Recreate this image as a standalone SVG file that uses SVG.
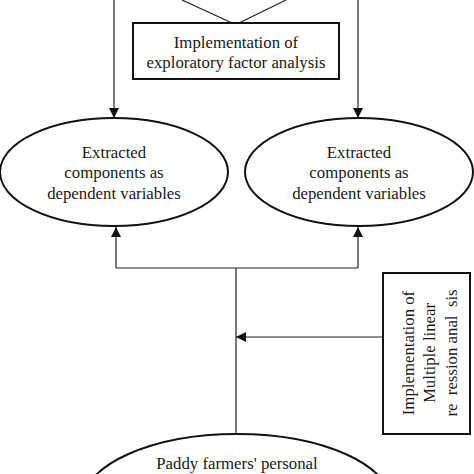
<svg xmlns="http://www.w3.org/2000/svg" width="474" height="474" viewBox="0 0 474 474">
<style>
text{font-family:"Liberation Serif","Times New Roman",serif;font-size:16.8px;fill:#1a1a1a;text-anchor:middle}
.n{fill:#fff;stroke:#111;stroke-width:2}
.c{fill:none;stroke:#222;stroke-width:1.2}
</style>
<defs>
<marker id="ah" viewBox="0 0 10 10" refX="10" refY="5" markerWidth="10" markerHeight="10" markerUnits="userSpaceOnUse" orient="auto">
<path d="M0,0 L10,5 L0,10 Z" fill="#111"/>
</marker>
</defs>
<rect width="474" height="474" fill="#fff"/>
<g id="connectors">
<line class="c" x1="114" y1="0" x2="114" y2="118" marker-end="url(#ah)"/>
<line class="c" x1="358" y1="0" x2="358" y2="118" marker-end="url(#ah)"/>
<line class="c" x1="182" y1="0" x2="232" y2="23"/>
<line class="c" x1="286" y1="0" x2="239" y2="23"/>
<polyline class="c" points="116,268 358,268"/>
<line class="c" x1="116" y1="268" x2="116" y2="227" marker-end="url(#ah)"/>
<line class="c" x1="358" y1="268" x2="358" y2="227" marker-end="url(#ah)"/>
<line class="c" x1="236" y1="268" x2="236" y2="434"/>
<line class="c" x1="383" y1="337" x2="236" y2="337" marker-end="url(#ah)"/>
</g>
<g id="efa">
<rect class="n" x="133" y="23" width="206" height="56"/>
<text x="236" y="48">Implementation of</text>
<text x="236" y="68">exploratory factor analysis</text>
</g>
<g id="left">
<ellipse class="n" cx="114" cy="172" rx="114" ry="54"/>
<text x="114" y="158">Extracted</text>
<text x="114" y="178">components as</text>
<text x="114" y="199">dependent variables</text>
</g>
<g id="right">
<ellipse class="n" cx="359" cy="172" rx="114" ry="54"/>
<text x="359" y="158">Extracted</text>
<text x="359" y="178">components as</text>
<text x="359" y="199">dependent variables</text>
</g>
<g id="mlr">
<rect class="n" x="383" y="273" width="87" height="161"/>
<g transform="translate(430,353) rotate(-90)">
<text x="0" y="-16">Implementation of</text>
<text x="0" y="5">Multiple linear</text>
<text x="0" y="27" xml:space="preserve">re  ression anal  sis</text>
</g>
</g>
<g id="personal">
<ellipse class="n" cx="237" cy="504" rx="155" ry="70"/>
<text x="237" y="469">Paddy farmers' personal</text>
</g>
</svg>
